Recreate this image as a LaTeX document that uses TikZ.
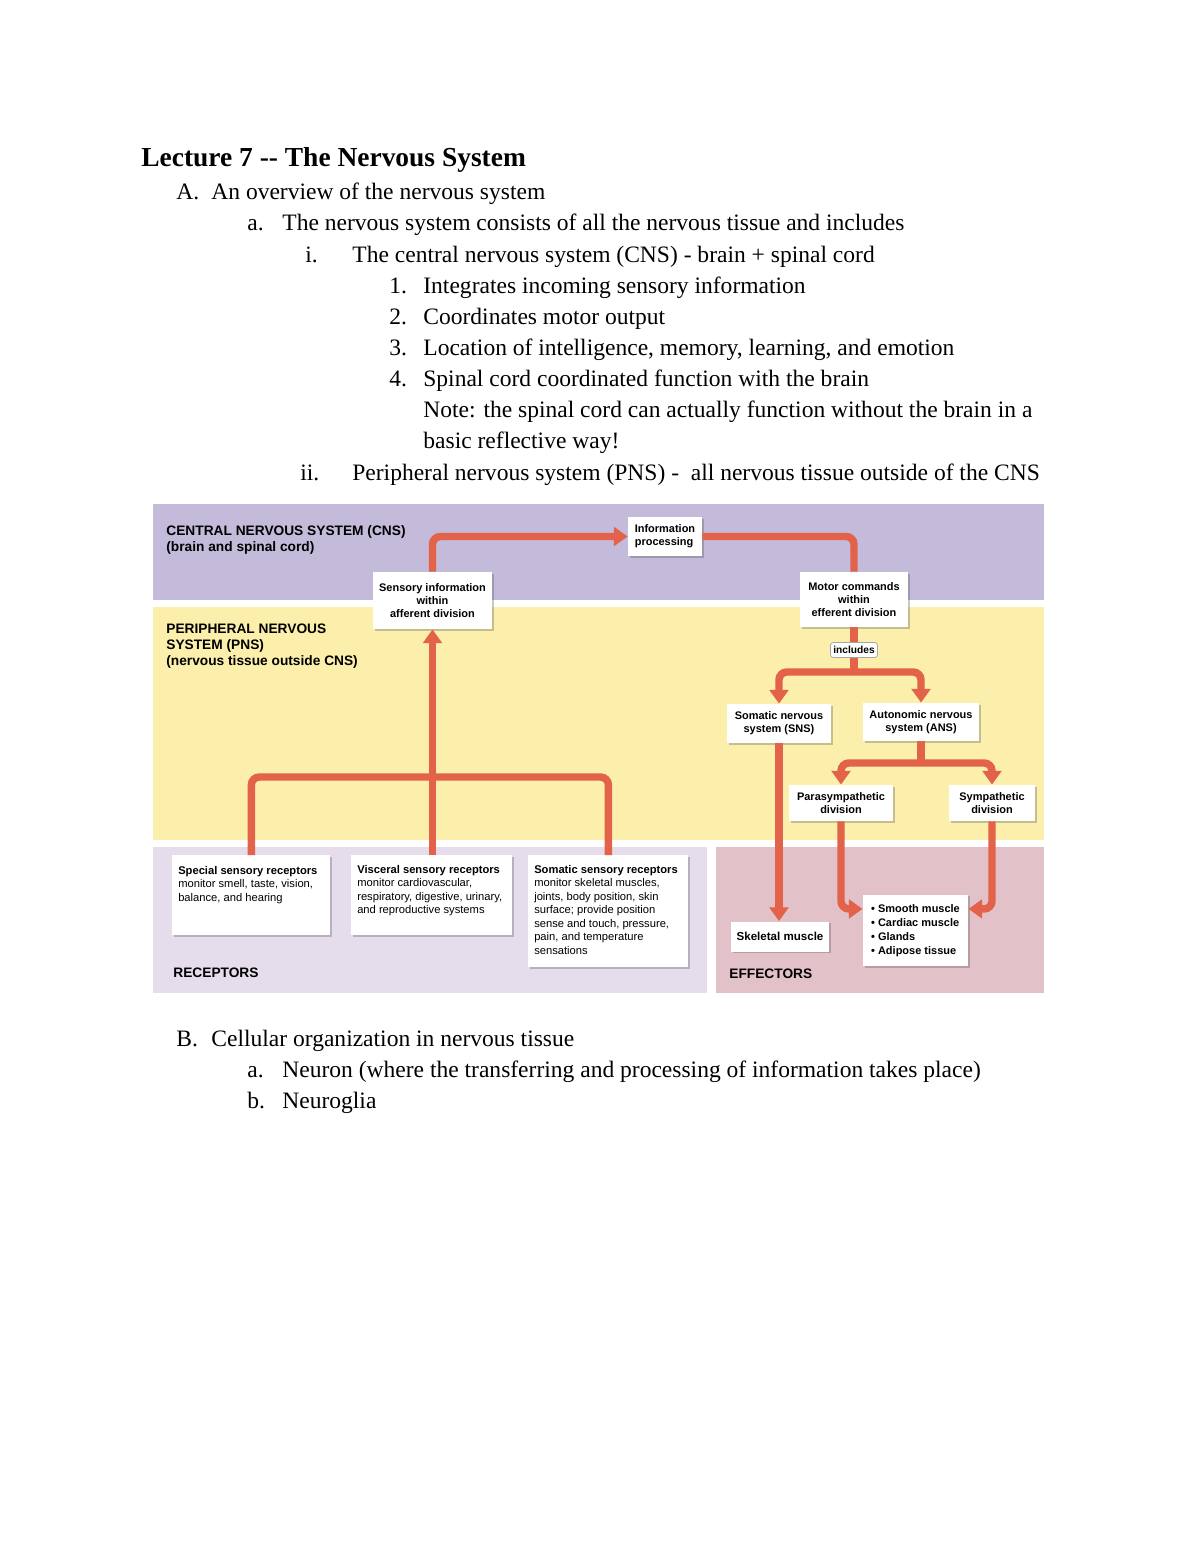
\documentclass[tikz,border=0pt]{standalone}
\usepackage{fontspec}
\setmainfont{Liberation Serif}
\newfontfamily\dsans{Liberation Sans}
\usetikzlibrary{arrows.meta,shadows,calc}
\definecolor{cnsc}{RGB}{196,186,217}
\definecolor{pnsc}{RGB}{251,239,171}
\definecolor{recc}{RGB}{229,221,236}
\definecolor{effc}{RGB}{227,193,200}
\definecolor{arrowc}{RGB}{226,99,74}
\tikzset{
  doc/.style={anchor=base west, inner sep=0pt, font=\fontsize{12}{14}\selectfont},
  rbox/.style={fill=white, inner sep=1pt, align=center,
    drop shadow={shadow xshift=0.8pt, shadow yshift=-1pt, opacity=0.3, fill=black!70},
    font=\dsans\bfseries\fontsize{5.6}{6.6}\selectfont},
  recbox/.style={fill=white, inner xsep=3pt, inner ysep=0pt, anchor=north west,
    drop shadow={shadow xshift=0.8pt, shadow yshift=-1pt, opacity=0.3, fill=black!70},
    font=\dsans\fontsize{5.7}{6.9}\selectfont},
  bandlabel/.style={inner sep=0pt, align=left, font=\dsans\bfseries\fontsize{7}{8}\selectfont},
  flow/.style={draw=arrowc, line width=3.8pt, rounded corners=4pt},
  flowarrow/.style={flow, -{Triangle[width=9.5pt,length=7pt]}},
  tag/.style={fill=white, draw=black!35, line width=0.4pt, rounded corners=1.5pt, inner sep=0.8pt,
    minimum width=24pt, minimum height=7.7pt, font=\dsans\bfseries\fontsize{5.2}{6}\selectfont}
}
\begin{document}
\begin{tikzpicture}[x=0.51pt,y=-0.51pt]
\useasboundingbox (0,0) rectangle (1200,1553);
\fill[white] (0,0) rectangle (1200,1553);

% ---------- document text ----------
\node[doc] (title) at (141,167) {\fontsize{14}{16}\selectfont\bfseries Lecture 7 -{}- The Nervous System};
\node[doc] (lA) at (176,200) {\makebox[17.85pt][l]{A.}An overview of the nervous system};
\node[doc] (la) at (247,231) {\makebox[17.85pt][l]{a.}The nervous system consists of all the nervous tissue and includes};
\node[doc] (li) at (305,262) {\makebox[24pt][l]{i.}The central nervous system (CNS) - brain + spinal cord};
\node[doc] (l1) at (389,293) {\makebox[17.35pt][l]{1.}Integrates incoming sensory information};
\node[doc] (l2) at (389,324) {\makebox[17.35pt][l]{2.}Coordinates motor output};
\node[doc] (l3) at (389,355) {\makebox[17.35pt][l]{3.}Location of intelligence, memory, learning, and emotion};
\node[doc] (l4) at (389,386) {\makebox[17.35pt][l]{4.}Spinal cord coordinated function with the brain};
\node[doc] (lnote) at (423,417) {Note: the spinal cord can actually function without the brain in a};
\node[doc] (lbasic) at (423,448) {basic reflective way!};
\node[doc] (lii) at (300,480) {\makebox[26.5pt][l]{ii.}Peripheral nervous system (PNS) -\ \ all nervous tissue outside of the CNS};
\node[doc] (lB) at (176,1046) {\makebox[17.85pt][l]{B.}Cellular organization in nervous tissue};
\node[doc] (lBa) at (247,1077) {\makebox[17.85pt][l]{a.}Neuron (where the transferring and processing of information takes place)};
\node[doc] (lBb) at (247,1108) {\makebox[17.85pt][l]{b.}Neuroglia};

% ---------- diagram bands ----------
\fill[cnsc] (153,504) rectangle (1044,600);
\fill[pnsc] (153,607) rectangle (1044,840);
\fill[recc] (153,847) rectangle (707,993);
\fill[effc] (716,847) rectangle (1044,993);

\node[bandlabel, anchor=north west] (cnslab) at (166,525) {CENTRAL NERVOUS SYSTEM (CNS)\\(brain and spinal cord)};
\node[bandlabel, anchor=north west] (pnslab) at (166,624) {PERIPHERAL NERVOUS\\SYSTEM (PNS)\\(nervous tissue outside CNS)};
\node[bandlabel, anchor=base west] (reclab) at (173,977) {RECEPTORS};
\node[bandlabel, anchor=base west] (efflab) at (729,978) {EFFECTORS};

% ---------- boxes ----------
\node[rbox, minimum width=60.7pt, minimum height=29.1pt] (sensory) at (432.5,600.5) {Sensory information\\within\\afferent division};
\node[rbox, minimum width=37.7pt, minimum height=19.9pt, align=left] (info) at (665,536.5) {Information\\processing};
\node[rbox, minimum width=55.1pt, minimum height=28.1pt] (motor) at (854,599.5) {Motor commands\\within\\efferent division};
\node[rbox, minimum width=53pt, minimum height=19.9pt] (sns) at (779,723.5) {Somatic nervous\\system (SNS)};
\node[rbox, minimum width=59.2pt, minimum height=19.4pt] (ans) at (921,722) {Autonomic nervous\\system (ANS)};
\node[rbox, minimum width=53pt, minimum height=18.4pt] (para) at (841,803) {Parasympathetic\\division};
\node[rbox, minimum width=43.9pt, minimum height=18.4pt] (symp) at (992,803) {Sympathetic\\division};
\node[rbox, minimum width=50pt, minimum height=15.3pt, font=\dsans\bfseries\fontsize{5.9}{7}\selectfont] (skel) at (780,936.5) {Skeletal muscle};
\node[rbox, minimum width=53.6pt, minimum height=36.7pt, align=left, font=\dsans\bfseries\fontsize{5.6}{7.1}\selectfont] (smooth) at (915.5,930.5) {\textbullet\ Smooth muscle\\\textbullet\ Cardiac muscle\\\textbullet\ Glands\\\textbullet\ Adipose tissue};

\node[recbox] (special) at (172,855) {\begin{minipage}[t][40.8pt][t]{74.6pt}\raggedright\vspace*{5.5pt}{\bfseries Special sensory receptors}\\monitor smell, taste, vision,\\balance, and hearing\end{minipage}};
\node[recbox] (visceral) at (351,855) {\begin{minipage}[t][40.8pt][t]{76.1pt}\raggedright\vspace*{5pt}{\bfseries Visceral sensory receptors}\\monitor cardiovascular,\\respiratory, digestive, urinary,\\and reproductive systems\end{minipage}};
\node[recbox] (somrec) at (528,855) {\begin{minipage}[t][57.1pt][t]{75.6pt}\raggedright\vspace*{5pt}{\bfseries Somatic sensory receptors}\\monitor skeletal muscles,\\joints, body position, skin\\surface; provide position\\sense and touch, pressure,\\pain, and temperature\\sensations\end{minipage}};

% ---------- connectors ----------
\coordinate (bar) at (432.5,777);
\coordinate (j1) at (854,672);
\coordinate (j2) at (921,763);

\draw[flow] (special.north) |- (bar) -| (somrec.north);
\draw[flowarrow] (sensory.south |- visceral.north) -- (sensory.south);
\draw[flowarrow] (sensory.north) |- (info.west);
\draw[flow] (info.east) -| (motor.north);
\draw[flow] (motor.south) -- (j1);
\draw[flowarrow] (j1) -| (sns.north);
\draw[flowarrow] (j1) -| (ans.north);
\draw[flow] (ans.south) -- (j2);
\draw[flowarrow] (j2) -| (para.north);
\draw[flowarrow] (j2) -| (symp.north);
\draw[flowarrow] (sns.south) -- (sns.south |- skel.north);
\draw[flowarrow] (para.south) |- ([yshift=11pt]smooth.west);
\draw[flowarrow] (symp.south) |- ([yshift=11pt]smooth.east);

\node[tag] (includes) at (854,650) {includes};
\end{tikzpicture}
\end{document}
